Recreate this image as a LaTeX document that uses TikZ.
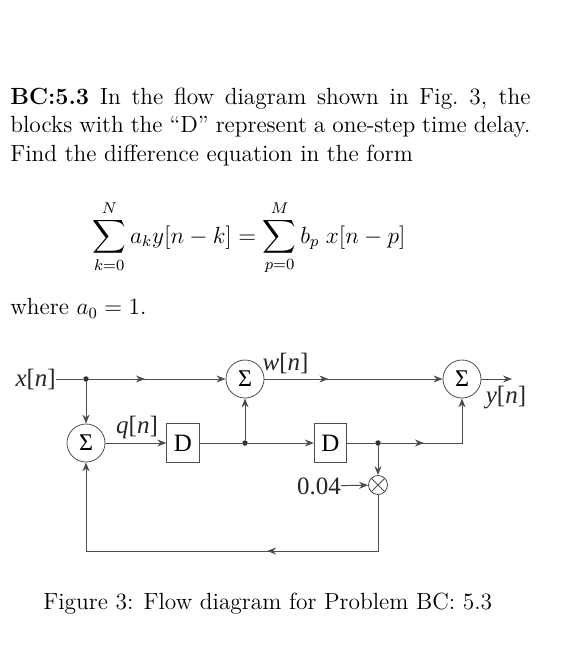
\RequirePackage{fix-cm}
\documentclass[tikz,border=0pt]{standalone}
\usepackage{amsmath}
\usepackage{fontspec}
\newfontfamily\figfont{Liberation Serif}
\usetikzlibrary{arrows.meta, positioning, decorations.markings}
\definecolor{linegray}{HTML}{4d4d4d}
\newcommand{\fullline}[1]{\makebox[266.7pt][s]{#1}}
\tikzset{
  txt/.style={inner sep=0pt, anchor=base west, scale=1.95, font=\fontsize{12}{14.5}\selectfont},
  lbl/.style={inner sep=0pt, text=black!85, font=\figfont\fontsize{25}{30}\selectfont},
  sumnode/.style={circle, draw=linegray, line width=0.8pt, minimum size=38pt, inner sep=0pt, font=\figfont\fontsize{24}{28}\selectfont},
  delay/.style={rectangle, draw=linegray, line width=0.8pt, minimum width=32.5pt, minimum height=38.5pt, inner sep=0pt, font=\figfont\fontsize{25}{30}\selectfont},
  mult/.style={circle, draw=linegray, line width=0.8pt, minimum size=19pt, inner sep=0pt,
    path picture={\draw[linegray, line width=0.8pt] (path picture bounding box.north west) -- (path picture bounding box.south east)
      (path picture bounding box.north east) -- (path picture bounding box.south west);}},
  junction/.style={circle, fill=black!80, inner sep=0pt, minimum size=5.5pt},
  wire/.style={draw=linegray, line width=1pt},
  flow/.style={wire, -{Stealth[length=9pt,width=7pt]}},
  midarrow/.style={postaction={decorate}, decoration={markings, mark=at position #1 with {\arrow{Stealth[length=9pt,width=7pt]}}}},
}
\begin{document}
\begin{tikzpicture}[x=1pt, y=-1pt]
  \useasboundingbox (0,0) rectangle (577,652);

  % problem text
  \node[txt] (line1) at (10,105) {\fullline{\textbf{BC:5.3} In the flow diagram shown in Fig.\ 3, the}};
  \node[txt] (line2) at (10,133) {\fullline{blocks with the ``D'' represent a one-step time delay.}};
  \node[txt] (line3) at (10,161.5) {Find the difference equation in the form};
  \node[txt] (eqn) at (92,243) {$\displaystyle\sum_{k=0}^{N} a_k y[n-k] = \sum_{p=0}^{M} b_p\; x[n-p]$};
  \node[txt] (where) at (10,314.5) {where $a_0 = 1$.};

  % blocks
  \node[lbl, anchor=east] (xin) at (56,379) {\textit{x}[\textit{n}]};
  \node[junction] (j1) at (86,379) {};
  \node[sumnode] (s1) at (245,379) {Σ};
  \node[sumnode] (s2) at (86,443) {Σ};
  \node[delay] (d1) at (183,443) {D};
  \node[junction] (j2) at (245,443) {};
  \node[delay] (d2) at (330.5,443) {D};
  \node[junction] (j3) at (378,443) {};
  \node[sumnode] (s3) at (462,379) {Σ};
  \node[mult] (m) at (378,485) {};
  \node[lbl, anchor=east] (gain) at (341,486) {0.04};
  \coordinate (c1) at (462,443);
  \coordinate (yout) at (512,379);
  \coordinate (c2) at (378,551);
  \coordinate (c3) at (86,551);

  \node[lbl] (wlab) at (285.5,363) {\textit{w}[\textit{n}]};
  \node[lbl] (qlab) at (137,427) {\textit{q}[\textit{n}]};
  \node[lbl] (ylab) at (506,398) {\textit{y}[\textit{n}]};

  % signal paths
  \draw[wire] (xin) -- (j1);
  \draw[flow, midarrow=56pt] (j1) -- (s1);
  \draw[flow] (j1) -- (s2);
  \draw[flow] (s2) -- (d1);
  \draw[wire] (d1) -- (j2);
  \draw[flow] (j2) -- (s1);
  \draw[flow] (j2) -- (d2);
  \draw[wire] (d2) -- (j3);
  \draw[flow, midarrow=43pt] (j3) -- (c1) -- (s3);
  \draw[flow] (j3) -- (m);
  \draw[flow] (gain) -- (m);
  \draw[flow, midarrow=64pt] (s1) -- (s3);
  \draw[flow] (s3) -- (yout);
  \draw[flow, midarrow=167pt] (m) -- (c2) -- (c3) -- (s2);

  \node[txt] (caption) at (43,609) {Figure 3: Flow diagram for Problem BC: 5.3};
\end{tikzpicture}
\end{document}
